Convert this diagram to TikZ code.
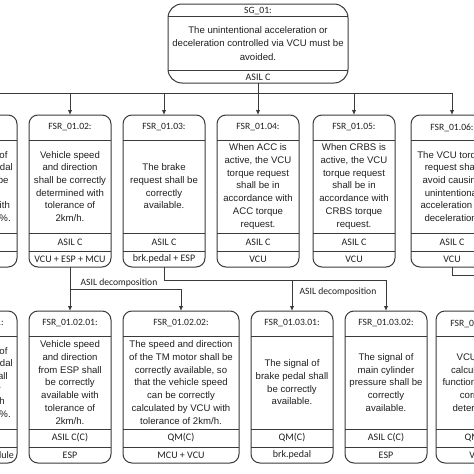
\documentclass[tikz,border=0pt]{standalone}
\usepackage{fontspec}
\setmainfont{Liberation Sans}
\newfontfamily\carlito{Carlito}
\usepackage{tikz}
\usetikzlibrary{positioning,calc,arrows.meta}

\definecolor{linegray}{HTML}{3A3A3A}
\definecolor{textgray}{HTML}{202020}

\tikzset{
    >={Latex[length=5pt,width=4.5pt]},
    link/.style={draw=linegray, line width=1pt},
    reqframe/.style={draw=linegray, line width=1pt, rounded corners=9pt,
        minimum height=152pt, anchor=north, inner sep=0pt, outer sep=0pt},
    sgframe/.style={reqframe, rounded corners=14pt, minimum width=180pt, minimum height=79pt},
    titletext/.style={font=\carlito\fontsize{9.6}{11}\selectfont, text=textgray, inner sep=0pt},
    bodytext/.style={font=\fontsize{9.6}{12.7}\selectfont, align=center, text=textgray, inner sep=0pt},
    foottext/.style={font=\carlito\fontsize{10}{11}\selectfont, text=textgray, inner sep=0pt},
}

% box with title, requirement, ASIL level and allocation
% #1 name, #2 x, #3 top, #4 width, #5 title, #6 text, #7 ASIL, #8 allocation
\newcommand{\reqbox}[8]{%
    \node[reqframe, minimum width=#4] (#1) at (#2,#3) {};
    \draw[link] ($(#1.north west)+(0,25)$) -- ($(#1.north east)+(0,25)$);
    \draw[link] ($(#1.north west)+(0,118)$) -- ($(#1.north east)+(0,118)$);
    \draw[link] ($(#1.north west)+(0,136)$) -- ($(#1.north east)+(0,136)$);
    \node[titletext] (#1-t) at ($(#1.north)+(0,12.5)$) {#5};
    \node[bodytext] (#1-b) at ($(#1.north)+(0,71.5)$) {#6};
    \node[foottext] (#1-a) at ($(#1.north)+(0,127)$) {#7};
    \node[foottext] (#1-c) at ($(#1.north)+(0,144)$) {#8};
}

\begin{document}
\begin{tikzpicture}[x=1pt, y=-1pt]
    \useasboundingbox (0,0) rectangle (474,474);
    \fill[white] (0,0) rectangle (474,474);
    \clip (0,0) rectangle (474,474);

    % safety goal
    \node[sgframe] (sg) at (258,4) {};
    \draw[link] ($(sg.north west)+(0,12)$) -- ($(sg.north east)+(0,12)$);
    \draw[link] ($(sg.north west)+(0,66)$) -- ($(sg.north east)+(0,66)$);
    \node[titletext] (sg-t) at ($(sg.north)+(0,7)$) {SG\_01:};
    \node[bodytext, font=\fontsize{9.6}{13.5}\selectfont] (sg-b) at ($(sg.north)+(0,39.5)$)
        {The unintentional acceleration or\\deceleration controlled via VCU must be\\avoided.};
    \node[foottext] (sg-a) at ($(sg.north)+(0,73)$) {ASIL C};

    % first level
    \reqbox{f0101}{-24}{115}{82pt}{FSR\_01.01:}
        {The position of\\accelerator pedal\\shall always be\\correctly\\determined with\\tolerance of 5\%.}{ASIL C}{VCU}
    \reqbox{f0102}{70}{115}{82pt}{FSR\_01.02:}
        {Vehicle speed\\and direction\\shall be correctly\\determined with\\tolerance of\\2km/h.}{ASIL C}{VCU + ESP + MCU}
    \reqbox{f0103}{164}{115}{82pt}{FSR\_01.03:}
        {The brake\\request shall be\\correctly\\available.}{ASIL C}{brk.pedal + ESP}
    \reqbox{f0104}{258}{115}{82pt}{FSR\_01.04:}
        {When ACC is\\active, the VCU\\torque request\\shall be in\\accordance with\\ACC torque\\request.}{ASIL C}{VCU}
    \reqbox{f0105}{354}{115}{82pt}{FSR\_01.05:}
        {When CRBS is\\active, the VCU\\torque request\\shall be in\\accordance with\\CRBS torque\\request.}{ASIL C}{VCU}
    \reqbox{f0106}{452}{115}{82pt}{FSR\_01.06:}
        {The VCU torque\\request shall\\avoid causing\\unintentional\\acceleration or\\deceleration.}{ASIL C}{VCU}

    % second level
    \reqbox{f010101}{-24}{311}{82pt}{FSR\_01.01.01:}
        {The position of\\accelerator pedal\\from APS shall\\be correctly\\available with\\tolerance of 5\%.}{QM(C)}{VCU + APS module}
    \reqbox{f010201}{70}{311}{82pt}{FSR\_01.02.01:}
        {Vehicle speed\\and direction\\from ESP shall\\be correctly\\available with\\tolerance of\\2km/h.}{ASIL C(C)}{ESP}
    \reqbox{f010202}{181}{311}{116pt}{FSR\_01.02.02:}
        {The speed and direction\\of the TM motor shall be\\correctly available, so\\that the vehicle speed\\can be correctly\\calculated by VCU with\\tolerance of 2km/h.}{QM(C)}{MCU + VCU}
    \reqbox{f010301}{292}{311}{82pt}{FSR\_01.03.01:}
        {The signal of\\brake pedal shall\\be correctly\\available.}{QM(C)}{brk.pedal}
    \reqbox{f010302}{386}{311}{82pt}{FSR\_01.03.02:}
        {The signal of\\main cylinder\\pressure shall be\\correctly\\available.}{ASIL C(C)}{ESP}
    \reqbox{f010601}{478}{311}{84pt}{FSR\_01.06.01:}
        {VCU shall\\calculate the\\functional torque\\correctly\\determined.}{QM(C)}{VCU}

    % goal to first level
    \coordinate (bus) at (0,93);
    \draw[link] (sg.south) -- (sg.south |- bus);
    \draw[link] (f0101.north |- bus) -- (f0106.north |- bus);
    \foreach \n in {f0101,f0102,f0103,f0104,f0105,f0106}
        \draw[link,->] (\n.north |- bus) -- (\n.north);

    % decompositions
    \coordinate (decA) at (0,289);
    \coordinate (decB) at (0,280);
    \coordinate (decC) at (480,275);
    \draw[link,->] (f0102.south) -- (f010201.north);
    \draw[link,->] (f0102.south |- decA) -| (f010202.north);
    \node[titletext] (decA-l) at (119,283) {ASIL decomposition};
    \draw[link] (f0103.south) |- (f010302.north |- decB);
    \draw[link,->] (f010301.north |- decB) -- (f010301.north);
    \draw[link,->] (f010302.north |- decB) -- (f010302.north);
    \node[titletext] (decB-l) at (338,292) {ASIL decomposition};
    \draw[link] (f0106.south) |- (decC);
\end{tikzpicture}
\end{document}
